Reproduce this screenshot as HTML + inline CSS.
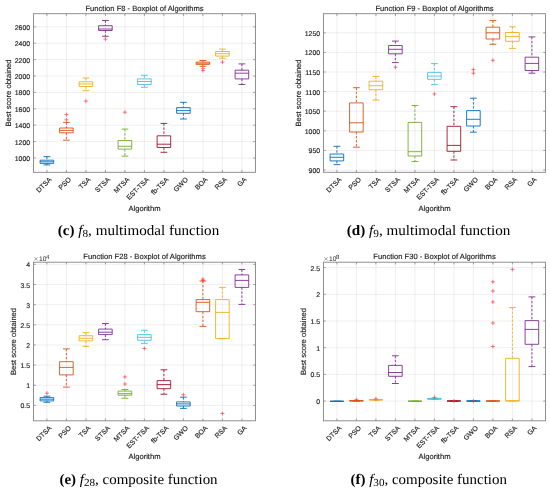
<!DOCTYPE html>
<html><head><meta charset="utf-8"><style>
html,body{margin:0;padding:0;background:#fff;}
svg{display:block;filter:blur(0.3px);}
text{stroke:#1c1c1c;stroke-width:0.15px;}
text.cap{stroke:none;}
</style></head><body>
<svg width="550" height="492" viewBox="0 0 550 492" font-family='"Liberation Sans", sans-serif' fill="#1c1c1c" text-rendering="geometricPrecision">
<rect width="550" height="492" fill="#fff"/>
<path d="M33.5 158H255.5 M33.5 141.6H255.5 M33.5 125.2H255.5 M33.5 108.8H255.5 M33.5 92.4H255.5 M33.5 76H255.5 M33.5 59.6H255.5 M33.5 43.2H255.5 M33.5 26.8H255.5 M46.9 13.7V172.3 M66.4 13.7V172.3 M85.9 13.7V172.3 M105.4 13.7V172.3 M124.9 13.7V172.3 M144.4 13.7V172.3 M163.9 13.7V172.3 M183.4 13.7V172.3 M202.9 13.7V172.3 M222.4 13.7V172.3 M241.9 13.7V172.3" stroke="#E8E8E8" stroke-width="0.7" fill="none"/>
<path d="M46.9 156.6V160.2 M46.9 163.4V164.9" stroke="#0072BD" stroke-width="0.9" stroke-dasharray="2.4 1.6" fill="none"/>
<path d="M43.5 156.6H50.3 M43.5 164.9H50.3 M40.1 160.2H53.7V163.4H40.1Z M40.1 161.8H53.7" stroke="#0072BD" stroke-width="0.9" fill="none"/>
<path d="M66.4 122.4V128 M66.4 132.8V140.2" stroke="#D95319" stroke-width="0.9" stroke-dasharray="2.4 1.6" fill="none"/>
<path d="M63 122.4H69.8 M63 140.2H69.8 M59.6 128H73.2V132.8H59.6Z M59.6 130.4H73.2" stroke="#D95319" stroke-width="0.9" fill="none"/>
<path d="M64.4 114.6H68.4M66.4 112.6V116.6 M64.4 119.8H68.4M66.4 117.8V121.8" stroke="#FF3535" stroke-width="0.65" fill="none"/>
<path d="M85.9 78V81.8 M85.9 86.5V90.7" stroke="#EDB120" stroke-width="0.9" stroke-dasharray="2.4 1.6" fill="none"/>
<path d="M82.5 78H89.3 M82.5 90.7H89.3 M79.1 81.8H92.7V86.5H79.1Z M79.1 84H92.7" stroke="#EDB120" stroke-width="0.9" fill="none"/>
<path d="M83.9 101.1H87.9M85.9 99.1V103.1" stroke="#FF3535" stroke-width="0.65" fill="none"/>
<path d="M105.4 20.5V25.7 M105.4 30.5V36.3" stroke="#7E2F8E" stroke-width="0.9" stroke-dasharray="2.4 1.6" fill="none"/>
<path d="M102 20.5H108.8 M102 36.3H108.8 M98.6 25.7H112.2V30.5H98.6Z M98.6 29H112.2" stroke="#7E2F8E" stroke-width="0.9" fill="none"/>
<path d="M103.4 39.1H107.4M105.4 37.1V41.1" stroke="#FF3535" stroke-width="0.65" fill="none"/>
<path d="M124.9 129.1V140.5 M124.9 149.1V156.1" stroke="#77AC30" stroke-width="0.9" stroke-dasharray="2.4 1.6" fill="none"/>
<path d="M121.5 129.1H128.3 M121.5 156.1H128.3 M118.1 140.5H131.7V149.1H118.1Z M118.1 146.3H131.7" stroke="#77AC30" stroke-width="0.9" fill="none"/>
<path d="M122.9 112.2H126.9M124.9 110.2V114.2" stroke="#FF3535" stroke-width="0.65" fill="none"/>
<path d="M144.4 75.3V78.9 M144.4 84.5V87.3" stroke="#4DBEEE" stroke-width="0.9" stroke-dasharray="2.4 1.6" fill="none"/>
<path d="M141 75.3H147.8 M141 87.3H147.8 M137.6 78.9H151.2V84.5H137.6Z M137.6 81.5H151.2" stroke="#4DBEEE" stroke-width="0.9" fill="none"/>
<path d="M163.9 123.4V135.8 M163.9 147.5V152.3" stroke="#A2142F" stroke-width="0.9" stroke-dasharray="2.4 1.6" fill="none"/>
<path d="M160.5 123.4H167.3 M160.5 152.3H167.3 M157.1 135.8H170.7V147.5H157.1Z M157.1 144.2H170.7" stroke="#A2142F" stroke-width="0.9" fill="none"/>
<path d="M183.4 102.3V107.6 M183.4 113.3V119" stroke="#0072BD" stroke-width="0.9" stroke-dasharray="2.4 1.6" fill="none"/>
<path d="M180 102.3H186.8 M180 119H186.8 M176.6 107.6H190.2V113.3H176.6Z M176.6 110.6H190.2" stroke="#0072BD" stroke-width="0.9" fill="none"/>
<path d="M202.9 60.5V62.1 M202.9 64.4V66.3" stroke="#D95319" stroke-width="0.9" stroke-dasharray="2.4 1.6" fill="none"/>
<path d="M199.5 60.5H206.3 M199.5 66.3H206.3 M196.1 62.1H209.7V64.4H196.1Z M196.1 63.2H209.7" stroke="#D95319" stroke-width="0.9" fill="none"/>
<path d="M200.9 68.3H204.9M202.9 66.3V70.3 M200.9 70.7H204.9M202.9 68.7V72.7" stroke="#FF3535" stroke-width="0.65" fill="none"/>
<path d="M222.4 49.1V51.5 M222.4 56.1V58.2" stroke="#EDB120" stroke-width="0.9" stroke-dasharray="2.4 1.6" fill="none"/>
<path d="M219 49.1H225.8 M219 58.2H225.8 M215.6 51.5H229.2V56.1H215.6Z M215.6 53.7H229.2" stroke="#EDB120" stroke-width="0.9" fill="none"/>
<path d="M220.4 62.1H224.4M222.4 60.1V64.1" stroke="#FF3535" stroke-width="0.65" fill="none"/>
<path d="M241.9 63.9V70.2 M241.9 78.9V84.5" stroke="#7E2F8E" stroke-width="0.9" stroke-dasharray="2.4 1.6" fill="none"/>
<path d="M238.5 63.9H245.3 M238.5 84.5H245.3 M235.1 70.2H248.7V78.9H235.1Z M235.1 73.2H248.7" stroke="#7E2F8E" stroke-width="0.9" fill="none"/>
<path d="M33.5 158h2.2M255.5 158h-2.2 M33.5 141.6h2.2M255.5 141.6h-2.2 M33.5 125.2h2.2M255.5 125.2h-2.2 M33.5 108.8h2.2M255.5 108.8h-2.2 M33.5 92.4h2.2M255.5 92.4h-2.2 M33.5 76h2.2M255.5 76h-2.2 M33.5 59.6h2.2M255.5 59.6h-2.2 M33.5 43.2h2.2M255.5 43.2h-2.2 M33.5 26.8h2.2M255.5 26.8h-2.2 M46.9 172.3v-2.2M46.9 13.7v2.2 M66.4 172.3v-2.2M66.4 13.7v2.2 M85.9 172.3v-2.2M85.9 13.7v2.2 M105.4 172.3v-2.2M105.4 13.7v2.2 M124.9 172.3v-2.2M124.9 13.7v2.2 M144.4 172.3v-2.2M144.4 13.7v2.2 M163.9 172.3v-2.2M163.9 13.7v2.2 M183.4 172.3v-2.2M183.4 13.7v2.2 M202.9 172.3v-2.2M202.9 13.7v2.2 M222.4 172.3v-2.2M222.4 13.7v2.2 M241.9 172.3v-2.2M241.9 13.7v2.2" stroke="#7a7a7a" stroke-width="0.7" fill="none"/>
<rect x="33.5" y="13.7" width="222" height="158.6" stroke="#858585" stroke-width="0.9" fill="none"/>
<text x="30.1" y="161" text-anchor="end" font-size="6.9">1000</text>
<text x="30.1" y="144.6" text-anchor="end" font-size="6.9">1200</text>
<text x="30.1" y="128.2" text-anchor="end" font-size="6.9">1400</text>
<text x="30.1" y="111.8" text-anchor="end" font-size="6.9">1600</text>
<text x="30.1" y="95.4" text-anchor="end" font-size="6.9">1800</text>
<text x="30.1" y="79" text-anchor="end" font-size="6.9">2000</text>
<text x="30.1" y="62.6" text-anchor="end" font-size="6.9">2200</text>
<text x="30.1" y="46.2" text-anchor="end" font-size="6.9">2400</text>
<text x="30.1" y="29.8" text-anchor="end" font-size="6.9">2600</text>
<text transform="translate(52 180) rotate(-45)" text-anchor="end" font-size="6.9">DTSA</text>
<text transform="translate(71.5 180) rotate(-45)" text-anchor="end" font-size="6.9">PSO</text>
<text transform="translate(91 180) rotate(-45)" text-anchor="end" font-size="6.9">TSA</text>
<text transform="translate(110.5 180) rotate(-45)" text-anchor="end" font-size="6.9">STSA</text>
<text transform="translate(130 180) rotate(-45)" text-anchor="end" font-size="6.9">MTSA</text>
<text transform="translate(149.5 180) rotate(-45)" text-anchor="end" font-size="6.9">EST-TSA</text>
<text transform="translate(169 180) rotate(-45)" text-anchor="end" font-size="6.9">fb-TSA</text>
<text transform="translate(188.5 180) rotate(-45)" text-anchor="end" font-size="6.9">GWO</text>
<text transform="translate(208 180) rotate(-45)" text-anchor="end" font-size="6.9">BOA</text>
<text transform="translate(227.5 180) rotate(-45)" text-anchor="end" font-size="6.9">RSA</text>
<text transform="translate(247 180) rotate(-45)" text-anchor="end" font-size="6.9">GA</text>
<text x="144.5" y="10.7" text-anchor="middle" font-size="7.6">Function F8 - Boxplot of Algorithms</text>
<text transform="translate(10.6 93) rotate(-90)" text-anchor="middle" font-size="7.6">Best score obtained</text>
<text x="144.5" y="210.6" text-anchor="middle" font-size="7.6">Algorithm</text>
<text x="57.8" y="234.8" class="cap" font-family='"Liberation Serif", serif' font-size="14.5" fill="#000" textLength="161.4" lengthAdjust="spacingAndGlyphs"><tspan font-weight="bold">(c)</tspan> <tspan font-style="italic">f</tspan><tspan font-size="10.8" dy="2.6">8</tspan><tspan dy="-2.6">, multimodal function</tspan></text>
<path d="M323.5 170H545.5 M323.5 150.4H545.5 M323.5 130.8H545.5 M323.5 111.2H545.5 M323.5 91.6H545.5 M323.5 72H545.5 M323.5 52.4H545.5 M323.5 32.8H545.5 M336.9 13.7V172.3 M356.4 13.7V172.3 M375.9 13.7V172.3 M395.4 13.7V172.3 M414.9 13.7V172.3 M434.4 13.7V172.3 M453.9 13.7V172.3 M473.4 13.7V172.3 M492.9 13.7V172.3 M512.4 13.7V172.3 M531.9 13.7V172.3" stroke="#E8E8E8" stroke-width="0.7" fill="none"/>
<path d="M336.9 146.3V154 M336.9 160.9V164.6" stroke="#0072BD" stroke-width="0.9" stroke-dasharray="2.4 1.6" fill="none"/>
<path d="M333.5 146.3H340.3 M333.5 164.6H340.3 M330.1 154H343.7V160.9H330.1Z M330.1 157.3H343.7" stroke="#0072BD" stroke-width="0.9" fill="none"/>
<path d="M356.4 87.7V102.9 M356.4 132V147.2" stroke="#D95319" stroke-width="0.9" stroke-dasharray="2.4 1.6" fill="none"/>
<path d="M353 87.7H359.8 M353 147.2H359.8 M349.6 102.9H363.2V132H349.6Z M349.6 122.8H363.2" stroke="#D95319" stroke-width="0.9" fill="none"/>
<path d="M375.9 76.5V81.2 M375.9 89.7V100.1" stroke="#EDB120" stroke-width="0.9" stroke-dasharray="2.4 1.6" fill="none"/>
<path d="M372.5 76.5H379.3 M372.5 100.1H379.3 M369.1 81.2H382.7V89.7H369.1Z M369.1 85.7H382.7" stroke="#EDB120" stroke-width="0.9" fill="none"/>
<path d="M395.4 41.1V45.5 M395.4 53.8V62.6" stroke="#7E2F8E" stroke-width="0.9" stroke-dasharray="2.4 1.6" fill="none"/>
<path d="M392 41.1H398.8 M392 62.6H398.8 M388.6 45.5H402.2V53.8H388.6Z M388.6 49.3H402.2" stroke="#7E2F8E" stroke-width="0.9" fill="none"/>
<path d="M393.4 67.2H397.4M395.4 65.2V69.2" stroke="#FF3535" stroke-width="0.65" fill="none"/>
<path d="M414.9 105.5V122.4 M414.9 156V161.5" stroke="#77AC30" stroke-width="0.9" stroke-dasharray="2.4 1.6" fill="none"/>
<path d="M411.5 105.5H418.3 M411.5 161.5H418.3 M408.1 122.4H421.7V156H408.1Z M408.1 151.7H421.7" stroke="#77AC30" stroke-width="0.9" fill="none"/>
<path d="M434.4 63.6V72.4 M434.4 79.3V84.6" stroke="#4DBEEE" stroke-width="0.9" stroke-dasharray="2.4 1.6" fill="none"/>
<path d="M431 63.6H437.8 M431 84.6H437.8 M427.6 72.4H441.2V79.3H427.6Z M427.6 76.1H441.2" stroke="#4DBEEE" stroke-width="0.9" fill="none"/>
<path d="M432.4 94H436.4M434.4 92V96" stroke="#FF3535" stroke-width="0.65" fill="none"/>
<path d="M453.9 106.7V126.3 M453.9 151.3V160" stroke="#A2142F" stroke-width="0.9" stroke-dasharray="2.4 1.6" fill="none"/>
<path d="M450.5 106.7H457.3 M450.5 160H457.3 M447.1 126.3H460.7V151.3H447.1Z M447.1 145.4H460.7" stroke="#A2142F" stroke-width="0.9" fill="none"/>
<path d="M473.4 98.2V110.6 M473.4 126V132.2" stroke="#0072BD" stroke-width="0.9" stroke-dasharray="2.4 1.6" fill="none"/>
<path d="M470 98.2H476.8 M470 132.2H476.8 M466.6 110.6H480.2V126H466.6Z M466.6 119.3H480.2" stroke="#0072BD" stroke-width="0.9" fill="none"/>
<path d="M471.4 69.6H475.4M473.4 67.6V71.6 M471.4 73.2H475.4M473.4 71.2V75.2" stroke="#FF3535" stroke-width="0.65" fill="none"/>
<path d="M492.9 20.6V27.2 M492.9 39V44.3" stroke="#D95319" stroke-width="0.9" stroke-dasharray="2.4 1.6" fill="none"/>
<path d="M489.5 20.6H496.3 M489.5 44.3H496.3 M486.1 27.2H499.7V39H486.1Z M486.1 32.8H499.7" stroke="#D95319" stroke-width="0.9" fill="none"/>
<path d="M490.9 60.3H494.9M492.9 58.3V62.3" stroke="#FF3535" stroke-width="0.65" fill="none"/>
<path d="M512.4 26.8V32.5 M512.4 41.3V48.4" stroke="#EDB120" stroke-width="0.9" stroke-dasharray="2.4 1.6" fill="none"/>
<path d="M509 26.8H515.8 M509 48.4H515.8 M505.6 32.5H519.2V41.3H505.6Z M505.6 36.4H519.2" stroke="#EDB120" stroke-width="0.9" fill="none"/>
<path d="M531.9 36.9V57.2 M531.9 70.5V73.2" stroke="#7E2F8E" stroke-width="0.9" stroke-dasharray="2.4 1.6" fill="none"/>
<path d="M528.5 36.9H535.3 M528.5 73.2H535.3 M525.1 57.2H538.7V70.5H525.1Z M525.1 63.4H538.7" stroke="#7E2F8E" stroke-width="0.9" fill="none"/>
<path d="M323.5 170h2.2M545.5 170h-2.2 M323.5 150.4h2.2M545.5 150.4h-2.2 M323.5 130.8h2.2M545.5 130.8h-2.2 M323.5 111.2h2.2M545.5 111.2h-2.2 M323.5 91.6h2.2M545.5 91.6h-2.2 M323.5 72h2.2M545.5 72h-2.2 M323.5 52.4h2.2M545.5 52.4h-2.2 M323.5 32.8h2.2M545.5 32.8h-2.2 M336.9 172.3v-2.2M336.9 13.7v2.2 M356.4 172.3v-2.2M356.4 13.7v2.2 M375.9 172.3v-2.2M375.9 13.7v2.2 M395.4 172.3v-2.2M395.4 13.7v2.2 M414.9 172.3v-2.2M414.9 13.7v2.2 M434.4 172.3v-2.2M434.4 13.7v2.2 M453.9 172.3v-2.2M453.9 13.7v2.2 M473.4 172.3v-2.2M473.4 13.7v2.2 M492.9 172.3v-2.2M492.9 13.7v2.2 M512.4 172.3v-2.2M512.4 13.7v2.2 M531.9 172.3v-2.2M531.9 13.7v2.2" stroke="#7a7a7a" stroke-width="0.7" fill="none"/>
<rect x="323.5" y="13.7" width="222" height="158.6" stroke="#858585" stroke-width="0.9" fill="none"/>
<text x="320.1" y="173" text-anchor="end" font-size="6.9">900</text>
<text x="320.1" y="153.4" text-anchor="end" font-size="6.9">950</text>
<text x="320.1" y="133.8" text-anchor="end" font-size="6.9">1000</text>
<text x="320.1" y="114.2" text-anchor="end" font-size="6.9">1050</text>
<text x="320.1" y="94.6" text-anchor="end" font-size="6.9">1100</text>
<text x="320.1" y="75" text-anchor="end" font-size="6.9">1150</text>
<text x="320.1" y="55.4" text-anchor="end" font-size="6.9">1200</text>
<text x="320.1" y="35.8" text-anchor="end" font-size="6.9">1250</text>
<text transform="translate(342 180) rotate(-45)" text-anchor="end" font-size="6.9">DTSA</text>
<text transform="translate(361.5 180) rotate(-45)" text-anchor="end" font-size="6.9">PSO</text>
<text transform="translate(381 180) rotate(-45)" text-anchor="end" font-size="6.9">TSA</text>
<text transform="translate(400.5 180) rotate(-45)" text-anchor="end" font-size="6.9">STSA</text>
<text transform="translate(420 180) rotate(-45)" text-anchor="end" font-size="6.9">MTSA</text>
<text transform="translate(439.5 180) rotate(-45)" text-anchor="end" font-size="6.9">EST-TSA</text>
<text transform="translate(459 180) rotate(-45)" text-anchor="end" font-size="6.9">fb-TSA</text>
<text transform="translate(478.5 180) rotate(-45)" text-anchor="end" font-size="6.9">GWO</text>
<text transform="translate(498 180) rotate(-45)" text-anchor="end" font-size="6.9">BOA</text>
<text transform="translate(517.5 180) rotate(-45)" text-anchor="end" font-size="6.9">RSA</text>
<text transform="translate(537 180) rotate(-45)" text-anchor="end" font-size="6.9">GA</text>
<text x="434.5" y="10.7" text-anchor="middle" font-size="7.6">Function F9 - Boxplot of Algorithms</text>
<text transform="translate(300.6 93) rotate(-90)" text-anchor="middle" font-size="7.6">Best score obtained</text>
<text x="434.5" y="210.6" text-anchor="middle" font-size="7.6">Algorithm</text>
<text x="346.8" y="234.8" class="cap" font-family='"Liberation Serif", serif' font-size="14.5" fill="#000" textLength="163.5" lengthAdjust="spacingAndGlyphs"><tspan font-weight="bold">(d)</tspan> <tspan font-style="italic">f</tspan><tspan font-size="10.8" dy="2.6">9</tspan><tspan dy="-2.6">, multimodal function</tspan></text>
<path d="M33.5 405.4H255.5 M33.5 385.25H255.5 M33.5 365.1H255.5 M33.5 344.95H255.5 M33.5 324.8H255.5 M33.5 304.65H255.5 M33.5 284.5H255.5 M33.5 264.35H255.5 M46.9 262.2V420.8 M66.4 262.2V420.8 M85.9 262.2V420.8 M105.4 262.2V420.8 M124.9 262.2V420.8 M144.4 262.2V420.8 M163.9 262.2V420.8 M183.4 262.2V420.8 M202.9 262.2V420.8 M222.4 262.2V420.8 M241.9 262.2V420.8" stroke="#E8E8E8" stroke-width="0.7" fill="none"/>
<path d="M46.9 396.2V397.6 M46.9 400.9V402.3" stroke="#0072BD" stroke-width="0.9" stroke-dasharray="2.4 1.6" fill="none"/>
<path d="M43.5 396.2H50.3 M43.5 402.3H50.3 M40.1 397.6H53.7V400.9H40.1Z M40.1 399.2H53.7" stroke="#0072BD" stroke-width="0.9" fill="none"/>
<path d="M44.9 393.2H48.9M46.9 391.2V395.2" stroke="#FF3535" stroke-width="0.65" fill="none"/>
<path d="M66.4 348.9V361.7 M66.4 374.9V387.1" stroke="#D95319" stroke-width="0.9" stroke-dasharray="2.4 1.6" fill="none"/>
<path d="M63 348.9H69.8 M63 387.1H69.8 M59.6 361.7H73.2V374.9H59.6Z M59.6 367.4H73.2" stroke="#D95319" stroke-width="0.9" fill="none"/>
<path d="M85.9 332.6V335.7 M85.9 340.9V346.4" stroke="#EDB120" stroke-width="0.9" stroke-dasharray="2.4 1.6" fill="none"/>
<path d="M82.5 332.6H89.3 M82.5 346.4H89.3 M79.1 335.7H92.7V340.9H79.1Z M79.1 338.3H92.7" stroke="#EDB120" stroke-width="0.9" fill="none"/>
<path d="M105.4 323.5V329.1 M105.4 334.6V339.7" stroke="#7E2F8E" stroke-width="0.9" stroke-dasharray="2.4 1.6" fill="none"/>
<path d="M102 323.5H108.8 M102 339.7H108.8 M98.6 329.1H112.2V334.6H98.6Z M98.6 332.2H112.2" stroke="#7E2F8E" stroke-width="0.9" fill="none"/>
<path d="M124.9 389.5V391.1 M124.9 395.2V398.3" stroke="#77AC30" stroke-width="0.9" stroke-dasharray="2.4 1.6" fill="none"/>
<path d="M121.5 389.5H128.3 M121.5 398.3H128.3 M118.1 391.1H131.7V395.2H118.1Z M118.1 393.6H131.7" stroke="#77AC30" stroke-width="0.9" fill="none"/>
<path d="M122.9 376.9H126.9M124.9 374.9V378.9 M122.9 384H126.9M124.9 382V386" stroke="#FF3535" stroke-width="0.65" fill="none"/>
<path d="M144.4 330.2V334.6 M144.4 340.3V343.4" stroke="#4DBEEE" stroke-width="0.9" stroke-dasharray="2.4 1.6" fill="none"/>
<path d="M141 330.2H147.8 M141 343.4H147.8 M137.6 334.6H151.2V340.3H137.6Z M137.6 337.3H151.2" stroke="#4DBEEE" stroke-width="0.9" fill="none"/>
<path d="M142.4 348.5H146.4M144.4 346.5V350.5" stroke="#FF3535" stroke-width="0.65" fill="none"/>
<path d="M163.9 369.8V380.6 M163.9 388.7V394.2" stroke="#A2142F" stroke-width="0.9" stroke-dasharray="2.4 1.6" fill="none"/>
<path d="M160.5 369.8H167.3 M160.5 394.2H167.3 M157.1 380.6H170.7V388.7H157.1Z M157.1 384.6H170.7" stroke="#A2142F" stroke-width="0.9" fill="none"/>
<path d="M183.4 397.2V401.9 M183.4 406V408.4" stroke="#0072BD" stroke-width="0.9" stroke-dasharray="2.4 1.6" fill="none"/>
<path d="M180 397.2H186.8 M180 408.4H186.8 M176.6 401.9H190.2V406H176.6Z M176.6 403.9H190.2" stroke="#0072BD" stroke-width="0.9" fill="none"/>
<path d="M181.4 394.8H185.4M183.4 392.8V396.8" stroke="#FF3535" stroke-width="0.65" fill="none"/>
<path d="M202.9 281V299.6 M202.9 311.7V326.4" stroke="#D95319" stroke-width="0.9" stroke-dasharray="2.4 1.6" fill="none"/>
<path d="M199.5 281H206.3 M199.5 326.4H206.3 M196.1 299.6H209.7V311.7H196.1Z M196.1 302.3H209.7" stroke="#D95319" stroke-width="0.9" fill="none"/>
<path d="M200.9 279.2H204.9M202.9 277.2V281.2 M200.9 280.6H204.9M202.9 278.6V282.6" stroke="#FF3535" stroke-width="0.65" fill="none"/>
<path d="M222.4 287.4V299.6" stroke="#EDB120" stroke-width="0.9" stroke-dasharray="2.4 1.6" fill="none"/>
<path d="M219 287.4H225.8 M219 338.6H225.8 M215.6 299.6H229.2V338.6H215.6Z M215.6 312.4H229.2" stroke="#EDB120" stroke-width="0.9" fill="none"/>
<path d="M220.4 413.5H224.4M222.4 411.5V415.5" stroke="#FF3535" stroke-width="0.65" fill="none"/>
<path d="M241.9 269.5V274.9 M241.9 287.4V304.4" stroke="#7E2F8E" stroke-width="0.9" stroke-dasharray="2.4 1.6" fill="none"/>
<path d="M238.5 269.5H245.3 M238.5 304.4H245.3 M235.1 274.9H248.7V287.4H235.1Z M235.1 280.4H248.7" stroke="#7E2F8E" stroke-width="0.9" fill="none"/>
<path d="M33.5 405.4h2.2M255.5 405.4h-2.2 M33.5 385.25h2.2M255.5 385.25h-2.2 M33.5 365.1h2.2M255.5 365.1h-2.2 M33.5 344.95h2.2M255.5 344.95h-2.2 M33.5 324.8h2.2M255.5 324.8h-2.2 M33.5 304.65h2.2M255.5 304.65h-2.2 M33.5 284.5h2.2M255.5 284.5h-2.2 M33.5 264.35h2.2M255.5 264.35h-2.2 M46.9 420.8v-2.2M46.9 262.2v2.2 M66.4 420.8v-2.2M66.4 262.2v2.2 M85.9 420.8v-2.2M85.9 262.2v2.2 M105.4 420.8v-2.2M105.4 262.2v2.2 M124.9 420.8v-2.2M124.9 262.2v2.2 M144.4 420.8v-2.2M144.4 262.2v2.2 M163.9 420.8v-2.2M163.9 262.2v2.2 M183.4 420.8v-2.2M183.4 262.2v2.2 M202.9 420.8v-2.2M202.9 262.2v2.2 M222.4 420.8v-2.2M222.4 262.2v2.2 M241.9 420.8v-2.2M241.9 262.2v2.2" stroke="#7a7a7a" stroke-width="0.7" fill="none"/>
<rect x="33.5" y="262.2" width="222" height="158.6" stroke="#858585" stroke-width="0.9" fill="none"/>
<text x="30.1" y="408.4" text-anchor="end" font-size="6.9">0.5</text>
<text x="30.1" y="388.25" text-anchor="end" font-size="6.9">1</text>
<text x="30.1" y="368.1" text-anchor="end" font-size="6.9">1.5</text>
<text x="30.1" y="347.95" text-anchor="end" font-size="6.9">2</text>
<text x="30.1" y="327.8" text-anchor="end" font-size="6.9">2.5</text>
<text x="30.1" y="307.65" text-anchor="end" font-size="6.9">3</text>
<text x="30.1" y="287.5" text-anchor="end" font-size="6.9">3.5</text>
<text x="30.1" y="267.35" text-anchor="end" font-size="6.9">4</text>
<path d="M34.4 257.3l3.2 3.2m0 -3.2l-3.2 3.2" stroke="#444" stroke-width="0.5" fill="none"/><text class="cap" x="39.1" y="260.7" font-size="6.7">10</text><text class="cap" x="46.1" y="258.5" font-size="6.0">4</text>
<text transform="translate(52 428.5) rotate(-45)" text-anchor="end" font-size="6.9">DTSA</text>
<text transform="translate(71.5 428.5) rotate(-45)" text-anchor="end" font-size="6.9">PSO</text>
<text transform="translate(91 428.5) rotate(-45)" text-anchor="end" font-size="6.9">TSA</text>
<text transform="translate(110.5 428.5) rotate(-45)" text-anchor="end" font-size="6.9">STSA</text>
<text transform="translate(130 428.5) rotate(-45)" text-anchor="end" font-size="6.9">MTSA</text>
<text transform="translate(149.5 428.5) rotate(-45)" text-anchor="end" font-size="6.9">EST-TSA</text>
<text transform="translate(169 428.5) rotate(-45)" text-anchor="end" font-size="6.9">fb-TSA</text>
<text transform="translate(188.5 428.5) rotate(-45)" text-anchor="end" font-size="6.9">GWO</text>
<text transform="translate(208 428.5) rotate(-45)" text-anchor="end" font-size="6.9">BOA</text>
<text transform="translate(227.5 428.5) rotate(-45)" text-anchor="end" font-size="6.9">RSA</text>
<text transform="translate(247 428.5) rotate(-45)" text-anchor="end" font-size="6.9">GA</text>
<text x="144.5" y="259.2" text-anchor="middle" font-size="7.6">Function F28 - Boxplot of Algorithms</text>
<text transform="translate(15.9 341.5) rotate(-90)" text-anchor="middle" font-size="7.6">Best score obtained</text>
<text x="144.5" y="459.1" text-anchor="middle" font-size="7.6">Algorithm</text>
<text x="59.5" y="483.8" class="cap" font-family='"Liberation Serif", serif' font-size="14.5" fill="#000" textLength="158.1" lengthAdjust="spacingAndGlyphs"><tspan font-weight="bold">(e)</tspan> <tspan font-style="italic">f</tspan><tspan font-size="10.8" dy="2.6">28</tspan><tspan dy="-2.6">, composite function</tspan></text>
<path d="M323.5 401.1H545.5 M323.5 374.4H545.5 M323.5 347.7H545.5 M323.5 321H545.5 M323.5 294.3H545.5 M323.5 267.6H545.5 M336.9 262.2V420.8 M356.4 262.2V420.8 M375.9 262.2V420.8 M395.4 262.2V420.8 M414.9 262.2V420.8 M434.4 262.2V420.8 M453.9 262.2V420.8 M473.4 262.2V420.8 M492.9 262.2V420.8 M512.4 262.2V420.8 M531.9 262.2V420.8" stroke="#E8E8E8" stroke-width="0.7" fill="none"/>
<path d="M333.5 401.3H340.3 M333.5 401.3H340.3 M330.1 401.3H343.7V401.3H330.1Z M330.1 401.3H343.7" stroke="#0072BD" stroke-width="0.9" fill="none"/>
<path d="M353 400.6H359.8 M353 401H359.8 M349.6 400.6H363.2V401H349.6Z M349.6 400.8H363.2" stroke="#D95319" stroke-width="0.9" fill="none"/>
<path d="M354.4 399.6H358.4M356.4 397.6V401.6" stroke="#FF3535" stroke-width="0.65" fill="none"/>
<path d="M372.5 399.5H379.3 M372.5 400.2H379.3 M369.1 399.6H382.7V400H369.1Z M369.1 399.8H382.7" stroke="#EDB120" stroke-width="0.9" fill="none"/>
<path d="M373.9 398.8H377.9M375.9 396.8V400.8" stroke="#FF3535" stroke-width="0.65" fill="none"/>
<path d="M395.4 355.8V365.4 M395.4 376.3V383.5" stroke="#7E2F8E" stroke-width="0.9" stroke-dasharray="2.4 1.6" fill="none"/>
<path d="M392 355.8H398.8 M392 383.5H398.8 M388.6 365.4H402.2V376.3H388.6Z M388.6 372.5H402.2" stroke="#7E2F8E" stroke-width="0.9" fill="none"/>
<path d="M411.5 401.2H418.3 M411.5 401.2H418.3 M408.1 401.2H421.7V401.2H408.1Z M408.1 401.2H421.7" stroke="#77AC30" stroke-width="0.9" fill="none"/>
<path d="M431 398.2H437.8 M431 399.5H437.8 M427.6 398.4H441.2V399.3H427.6Z M427.6 398.8H441.2" stroke="#4DBEEE" stroke-width="0.9" fill="none"/>
<path d="M432.4 397.4H436.4M434.4 395.4V399.4" stroke="#FF3535" stroke-width="0.65" fill="none"/>
<path d="M450.5 401H457.3 M450.5 401H457.3 M447.1 401H460.7V401H447.1Z M447.1 401H460.7" stroke="#A2142F" stroke-width="0.9" fill="none"/>
<path d="M451.9 401H455.9M453.9 399V403" stroke="#FF3535" stroke-width="0.65" fill="none"/>
<path d="M470 401H476.8 M470 401H476.8 M466.6 401H480.2V401H466.6Z M466.6 401H480.2" stroke="#0072BD" stroke-width="0.9" fill="none"/>
<path d="M471.4 401H475.4M473.4 399V403" stroke="#FF3535" stroke-width="0.65" fill="none"/>
<path d="M489.5 401H496.3 M489.5 401H496.3 M486.1 401H499.7V401H486.1Z M486.1 401H499.7" stroke="#D95319" stroke-width="0.9" fill="none"/>
<path d="M490.9 281.8H494.9M492.9 279.8V283.8 M490.9 291H494.9M492.9 289V293 M490.9 302H494.9M492.9 300V304 M490.9 323H494.9M492.9 321V325 M490.9 346.5H494.9M492.9 344.5V348.5" stroke="#FF3535" stroke-width="0.65" fill="none"/>
<path d="M512.4 307.5V358.3" stroke="#EDB120" stroke-width="0.9" stroke-dasharray="2.4 1.6" fill="none"/>
<path d="M509 307.5H515.8 M509 400.9H515.8 M505.6 358.3H519.2V400.9H505.6Z M505.6 400.9H519.2" stroke="#EDB120" stroke-width="0.9" fill="none"/>
<path d="M510.4 269.4H514.4M512.4 267.4V271.4" stroke="#FF3535" stroke-width="0.65" fill="none"/>
<path d="M531.9 296.9V320.6 M531.9 344.3V366.6" stroke="#7E2F8E" stroke-width="0.9" stroke-dasharray="2.4 1.6" fill="none"/>
<path d="M528.5 296.9H535.3 M528.5 366.6H535.3 M525.1 320.6H538.7V344.3H525.1Z M525.1 329.4H538.7" stroke="#7E2F8E" stroke-width="0.9" fill="none"/>
<path d="M323.5 401.1h2.2M545.5 401.1h-2.2 M323.5 374.4h2.2M545.5 374.4h-2.2 M323.5 347.7h2.2M545.5 347.7h-2.2 M323.5 321h2.2M545.5 321h-2.2 M323.5 294.3h2.2M545.5 294.3h-2.2 M323.5 267.6h2.2M545.5 267.6h-2.2 M336.9 420.8v-2.2M336.9 262.2v2.2 M356.4 420.8v-2.2M356.4 262.2v2.2 M375.9 420.8v-2.2M375.9 262.2v2.2 M395.4 420.8v-2.2M395.4 262.2v2.2 M414.9 420.8v-2.2M414.9 262.2v2.2 M434.4 420.8v-2.2M434.4 262.2v2.2 M453.9 420.8v-2.2M453.9 262.2v2.2 M473.4 420.8v-2.2M473.4 262.2v2.2 M492.9 420.8v-2.2M492.9 262.2v2.2 M512.4 420.8v-2.2M512.4 262.2v2.2 M531.9 420.8v-2.2M531.9 262.2v2.2" stroke="#7a7a7a" stroke-width="0.7" fill="none"/>
<rect x="323.5" y="262.2" width="222" height="158.6" stroke="#858585" stroke-width="0.9" fill="none"/>
<text x="320.1" y="404.1" text-anchor="end" font-size="6.9">0</text>
<text x="320.1" y="377.4" text-anchor="end" font-size="6.9">0.5</text>
<text x="320.1" y="350.7" text-anchor="end" font-size="6.9">1</text>
<text x="320.1" y="324" text-anchor="end" font-size="6.9">1.5</text>
<text x="320.1" y="297.3" text-anchor="end" font-size="6.9">2</text>
<text x="320.1" y="270.6" text-anchor="end" font-size="6.9">2.5</text>
<path d="M324.4 257.3l3.2 3.2m0 -3.2l-3.2 3.2" stroke="#444" stroke-width="0.5" fill="none"/><text class="cap" x="329.1" y="260.7" font-size="6.7">10</text><text class="cap" x="336.1" y="258.5" font-size="6.0">8</text>
<text transform="translate(342 428.5) rotate(-45)" text-anchor="end" font-size="6.9">DTSA</text>
<text transform="translate(361.5 428.5) rotate(-45)" text-anchor="end" font-size="6.9">PSO</text>
<text transform="translate(381 428.5) rotate(-45)" text-anchor="end" font-size="6.9">TSA</text>
<text transform="translate(400.5 428.5) rotate(-45)" text-anchor="end" font-size="6.9">STSA</text>
<text transform="translate(420 428.5) rotate(-45)" text-anchor="end" font-size="6.9">MTSA</text>
<text transform="translate(439.5 428.5) rotate(-45)" text-anchor="end" font-size="6.9">EST-TSA</text>
<text transform="translate(459 428.5) rotate(-45)" text-anchor="end" font-size="6.9">fb-TSA</text>
<text transform="translate(478.5 428.5) rotate(-45)" text-anchor="end" font-size="6.9">GWO</text>
<text transform="translate(498 428.5) rotate(-45)" text-anchor="end" font-size="6.9">BOA</text>
<text transform="translate(517.5 428.5) rotate(-45)" text-anchor="end" font-size="6.9">RSA</text>
<text transform="translate(537 428.5) rotate(-45)" text-anchor="end" font-size="6.9">GA</text>
<text x="434.5" y="259.2" text-anchor="middle" font-size="7.6">Function F30 - Boxplot of Algorithms</text>
<text transform="translate(305.9 341.5) rotate(-90)" text-anchor="middle" font-size="7.6">Best score obtained</text>
<text x="434.5" y="459.1" text-anchor="middle" font-size="7.6">Algorithm</text>
<text x="350.5" y="483.8" class="cap" font-family='"Liberation Serif", serif' font-size="14.5" fill="#000" textLength="156.4" lengthAdjust="spacingAndGlyphs"><tspan font-weight="bold">(f)</tspan> <tspan font-style="italic">f</tspan><tspan font-size="10.8" dy="2.6">30</tspan><tspan dy="-2.6">, composite function</tspan></text>
</svg></body></html>
